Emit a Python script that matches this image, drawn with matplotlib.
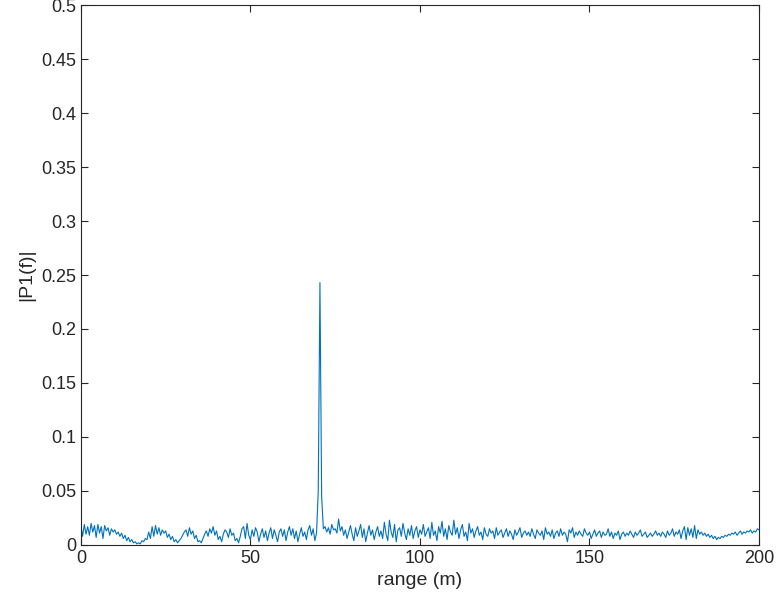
import numpy as np
import matplotlib
matplotlib.use("Agg")
import matplotlib.pyplot as plt

plt.rcParams['font.family'] = ['Liberation Sans', 'DejaVu Sans']

# spectrum magnitude, in thousandths, 0.5 m step from 0 to 200 m
noise_a = [18,8,19,10,17,9,20,12,18,7,19,11,17,6,18,13,16,9,15,12,
           14,10,12,8,11,6,9,4,7,3,5,2,3,1,2,1,4,3,6,5,
           12,6,17,8,18,10,16,9,14,11,13,7,10,5,8,3,5,2,4,6,
           9,12,14,8,16,10,13,6,9,3,4,2,6,10,13,8,15,11,17,9,
           13,5,8,3,10,14,12,7,15,9,11,4,6,2,8,15,17,6,20,9,
           5,14,8,16,12,3,10,15,7,13,4,11,16,6,14,9,3,12,15,8,
           14,4,12,17,9,15,6,13,3,10,16,8,12,5,14,18,9,15,4,11]
peak = [50,243,45,15]
noise_b = [17,12,16,10,19,14,15,11,24,13,17,9,14,6,12,18,
           10,4,16,8,13,19,7,15,3,11,18,9,14,5,12,17,8,13,6,21,
           10,4,23,12,7,19,3,14,16,8,20,11,5,15,9,18,6,13,17,7,
           14,10,19,8,12,16,6,21,9,13,4,17,11,22,8,15,5,18,12,9,
           23,10,16,6,14,19,8,12,4,20,11,15,7,13,17,9,12,5,16,10,
           8,15,11,13,6,16,9,12,14,7,11,15,8,13,10,5,14,9,12,16,
           7,11,13,9,12,8,15,10,6,14,11,9,13,5,16,10,12,8,14,6,
           11,13,8,15,9,12,10,3,14,11,16,7,12,9,13,10,8,15,11,9,
           12,6,10,14,8,11,13,7,12,9,10,15,8,12,6,11,9,13,5,10,
           12,8,11,9,13,10,7,12,9,11,14,8,10,12,7,9,11,8,10,13,
           9,11,8,12,10,7,13,9,11,15,8,12,10,14,6,13,17,5,16,9,
           15,7,18,6,14,10,12,9,11,8,10,7,9,6,8,5,7,6,8,7,
           9,8,10,9,11,10,12,9,11,13,10,12,11,13,12,14,11,13,12,15,14]

mag = np.array(noise_a + peak + noise_b) / 1000.0
rng_m = np.linspace(0, 200, len(mag))

fig = plt.figure(figsize=(7.78, 6.12), dpi=100)
ax = fig.add_axes([0.104, 0.1095, 0.8716, 0.8823])
ax.plot(rng_m, mag, color='#0072BD', linewidth=0.8)
ax.set_xlim(0, 200)
ax.set_ylim(0, 0.5)
ax.set_xticks([0, 50, 100, 150, 200])
ax.set_yticks(np.arange(0, 0.51, 0.05))
ax.set_yticklabels(['0', '0.05', '0.1', '0.15', '0.2', '0.25', '0.3', '0.35', '0.4', '0.45', '0.5'])
ax.tick_params(direction='in', top=True, right=True, labelsize=13, colors='#262626', length=5)
for s in ax.spines.values():
    s.set_color('#262626')
    s.set_linewidth(0.8)
ax.set_xlabel('range (m)', fontsize=14, color='#262626')
ax.set_ylabel('|P1(f)|', fontsize=14, color='#262626')

fig.savefig('out.png', dpi=100)
